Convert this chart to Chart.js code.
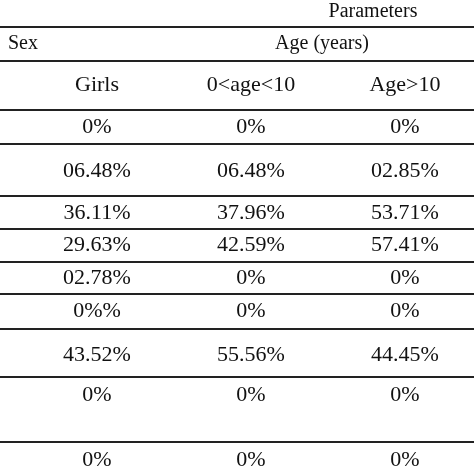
<!DOCTYPE html>
<html>
<head>
<meta charset="utf-8">
<script src="https://cdn.jsdelivr.net/npm/chart.js@4.4.0/dist/chart.umd.min.js"></script>
<style>
  html, body { margin: 0; padding: 0; background: #fff; }
  #wrap { width: 474px; height: 474px; }
</style>
</head>
<body>
<div id="wrap"><canvas id="tableChart"></canvas></div>
<script>
// Table content
const columnHeads = ['Girls', '0<age<10', 'Age>10'];
const girls = ['0%', '06.48%', '36.11%', '29.63%', '02.78%', '0%%', '43.52%', '0%', '0%'];
const ageUnder10 = ['0%', '06.48%', '37.96%', '42.59%', '0%', '0%', '55.56%', '0%', '0%'];
const ageOver10 = ['0%', '02.85%', '53.71%', '57.41%', '0%', '0%', '44.45%', '0%', '0%'];

// Layout (pixel units of the 474x474 area)
const colCenters = [97, 251, 405];
const rowCenters = [127, 171, 213, 245, 278, 311, 355, 395, 460];
const ruleLines = [27, 61, 110, 144, 196, 229, 262, 294, 329, 377, 442];

const font = '"Liberation Serif", "DejaVu Serif", serif';

const cellPoints = [];
[girls, ageUnder10, ageOver10].forEach((col, c) => {
    col.forEach((txt, r) => {
        cellPoints.push({ x: colCenters[c], y: rowCenters[r], text: txt, size: 22 });
    });
});
columnHeads.forEach((txt, c) => {
    cellPoints.push({ x: colCenters[c], y: 85, text: txt, size: 22 });
});
cellPoints.push({ x: 373, y: 12, text: 'Parameters', size: 20 });
cellPoints.push({ x: 322, y: 44, text: 'Age (years)', size: 20 });
cellPoints.push({ x: 8, y: 44, text: 'Sex', size: 20, align: 'left' });

const ruleSets = ruleLines.map(y => ({
    type: 'line',
    data: [{ x: 0, y: y }, { x: 474, y: y }],
    borderColor: '#222',
    borderWidth: 2,
    pointRadius: 0
}));

const cellText = {
    id: 'cellText',
    afterDatasetsDraw(chart) {
        const ctx = chart.ctx;
        const xs = chart.scales.x, ys = chart.scales.y;
        ctx.save();
        ctx.fillStyle = '#111';
        ctx.textBaseline = 'middle';
        cellPoints.forEach(p => {
            ctx.font = p.size + 'px ' + font;
            ctx.textAlign = p.align || 'center';
            ctx.fillText(p.text, xs.getPixelForValue(p.x), ys.getPixelForValue(p.y));
        });
        ctx.restore();
    }
};

new Chart(document.getElementById('tableChart'), {
    type: 'scatter',
    data: {
        datasets: [{ data: cellPoints, pointRadius: 0 }].concat(ruleSets)
    },
    options: {
        responsive: true,
        maintainAspectRatio: false,
        animation: false,
        layout: { padding: 0 },
        plugins: { legend: { display: false }, tooltip: { enabled: false } },
        scales: {
            x: { type: 'linear', min: 0, max: 474, display: false },
            y: { type: 'linear', min: 0, max: 474, reverse: true, display: false }
        }
    },
    plugins: [cellText]
});
</script>
</body>
</html>
